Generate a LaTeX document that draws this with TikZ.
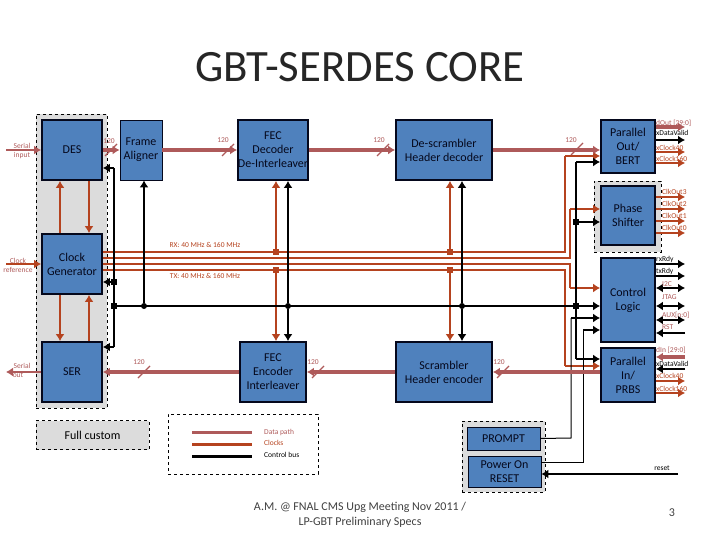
\documentclass[tikz,border=0pt]{standalone}
\usepackage{fontspec}
\setmainfont{Carlito}
\usetikzlibrary{arrows.meta}
\definecolor{boxblue}{HTML}{4F81BD}
\definecolor{boxline}{HTML}{05081C}
\definecolor{datared}{HTML}{AE5A5A}
\definecolor{clockred}{HTML}{B5431F}
\definecolor{customgrey}{HTML}{DCDCDC}
\tikzset{
  block/.style={draw=boxline, line width=1.8pt, fill=boxblue, text=boxline, inner sep=0pt, align=center, font=\fontsize{12}{14}\selectfont},
  custom/.style={draw=black, dashed, fill=customgrey, inner sep=0pt},
  datapath/.style={draw=datared, line width=4pt},
  clockpath/.style={draw=clockred, line width=2.5pt},
  ctrlpath/.style={draw=black, line width=2.2pt},
  thinpath/.style={draw=black, line width=1pt},
  tip/.style={-{Latex[length=7pt,width=9pt]}},
  both/.style={{Latex[length=7pt,width=9pt]}-{Latex[length=7pt,width=9pt]}},
  sigtext/.style={inner sep=0pt, font=\fontsize{7.5}{8}\selectfont, text=datared},
  ctrltext/.style={inner sep=0pt, font=\fontsize{7.5}{8}\selectfont, text=black},
  clocktext/.style={inner sep=0pt, font=\fontsize{7.5}{8}\selectfont, text=clockred},
  ctrldot/.style={circle, fill=black, inner sep=0pt, minimum size=6pt},
  ctrlsq/.style={rectangle, fill=black, inner sep=0pt, minimum size=6pt},
  clocksq/.style={rectangle, fill=clockred, inner sep=0pt, minimum size=6pt}
}
\begin{document}
\begin{tikzpicture}[x=1pt, y=-1pt]
  \useasboundingbox (0,0) rectangle (720,540);
  \node[inner sep=0pt, text=black!85, font=\fontsize{44.8}{48}\selectfont] (title) at (360,67) {GBT-SERDES CORE};

  % full custom areas
  \node[custom, minimum width=71pt, minimum height=294pt] (lgrey) at (71.5,261) {};
  \node[custom, minimum width=67pt, minimum height=71pt] (pgrey) at (627.5,216.5) {};
  \node[custom, minimum width=83pt, minimum height=71pt] (rgrey) at (503.5,456.5) {};
  \node[custom, minimum width=113pt, minimum height=29pt, font=\fontsize{12}{14}\selectfont] (fcustom) at (92.5,435) {Full custom};

  % blocks
  \node[block, minimum width=60pt, minimum height=60pt] (des) at (72,150) {DES};
  \node[block, line width=0.8pt, minimum width=42pt, minimum height=60pt] (frame) at (141,150) {Frame\\Aligner};
  \node[block, minimum width=60pt, minimum height=60pt] (clock) at (72,264) {Clock\\Generator};
  \node[block, minimum width=60pt, minimum height=60pt] (ser) at (72,372) {SER};
  \node[block, minimum width=66pt, minimum height=60pt] (fecd) at (273,150) {FEC\\Decoder\\De-Interleaver};
  \node[block, minimum width=96pt, minimum height=60pt] (descr) at (444,150) {De-scrambler\\Header decoder};
  \node[block, minimum width=66pt, minimum height=60pt] (fece) at (273,372) {FEC\\Encoder\\Interleaver};
  \node[block, minimum width=96pt, minimum height=60pt] (scr) at (444,372) {Scrambler\\Header encoder};
  \node[block, minimum width=54pt, minimum height=53pt] (pout) at (628,146.5) {Parallel\\Out/\\BERT};
  \node[block, minimum width=54pt, minimum height=59pt] (phase) at (628,215.5) {Phase\\Shifter};
  \node[block, minimum width=54pt, minimum height=84pt] (ctrl) at (628,300) {Control\\Logic};
  \node[block, minimum width=54pt, minimum height=54pt] (pin) at (628,375) {Parallel\\In/\\PRBS};
  \node[block, line width=0.8pt, minimum width=73pt, minimum height=23pt] (prompt) at (503.5,438.5) {PROMPT};
  \node[block, line width=0.8pt, minimum width=73pt, minimum height=31pt] (por) at (504.5,471.5) {Power On\\RESET};

  % clock lines
  \coordinate (c1) at (565,252);
  \coordinate (c2) at (570,258);
  \coordinate (c3) at (570,264);
  \coordinate (c4) at (565,270);
  \coordinate (c1e) at (565,156);
  \coordinate (c2e) at (570,209);
  \coordinate (c3e) at (570,288);
  \coordinate (c4e) at (565,366);
  \draw[clockpath] (clock.east |- c1) -- (c1) -- (c1e);
  \draw[clockpath] (clock.east |- c2) -- (c2) -- (c2e);
  \draw[clockpath] (clock.east |- c3) -- (c3) -- (c3e);
  \draw[clockpath] (clock.east |- c4) -- (c4) -- (c4e);
  \draw[clockpath, tip] (c1e) -- (c1e -| pout.west);
  \draw[clockpath, tip] (c2e) -- (c2e -| phase.west);
  \draw[clockpath, tip] (c3e) -- (c3e -| ctrl.west);
  \draw[clockpath, tip] (c4e) -- (c4e -| pin.west);
  \coordinate (cl) at (60,0);
  \coordinate (cr) at (89,0);
  \draw[clockpath, tip] (clock.north -| cl) -- (des.south -| cl);
  \draw[clockpath, tip] (des.south -| cr) -- (clock.north -| cr);
  \draw[clockpath, tip] (clock.south -| cl) -- (ser.north -| cl);
  \draw[clockpath, tip] (ser.north -| cr) -- (clock.south -| cr);
  \foreach \xc/\up/\down in {276/fecd/fece, 450/descr/scr} {
    \node[clocksq] (s\xc a) at (\xc,252) {};
    \node[clocksq] (s\xc b) at (\xc,270) {};
    \draw[clockpath, tip] (s\xc a) -- (\up.south -| s\xc a);
    \draw[clockpath, tip] (s\xc b) -- (\down.north -| s\xc b);
  }

  % control bus
  \node[ctrlsq] (b1) at (114,282) {};
  \node[ctrlsq] (b2) at (114,306) {};
  \node[ctrldot] (b3) at (144,306) {};
  \node[ctrldot] (b4) at (288,306) {};
  \node[ctrldot] (b5) at (462,306) {};
  \node[ctrlsq] (b6) at (576,306) {};
  \node[ctrlsq] (b7) at (576,222) {};
  \coordinate (b0) at (114,168);
  \coordinate (b8) at (114,347);
  \coordinate (b9) at (576,162);
  \coordinate (b10) at (576,359);
  \draw[ctrlpath] (b0) -- (b8);
  \draw[ctrlpath, tip] (b0) -- (des.east |- b0);
  \draw[ctrlpath, tip] (b8) -- (ser.east |- b8);
  \draw[ctrlpath, tip] (b1) -- (clock.east |- b1);
  \draw[ctrlpath] (b2) -- (b6);
  \draw[ctrlpath, tip] (b6) -- (b6 -| ctrl.west);
  \draw[ctrlpath] (b9) -- (b10);
  \draw[ctrlpath, tip] (b9) -- (b9 -| pout.west);
  \draw[ctrlpath, tip] (b7) -- (b7 -| phase.west);
  \draw[ctrlpath, tip] (b10) -- (b10 -| pin.west);
  \draw[ctrlpath, tip] (b3) -- (frame.south -| b3);
  \draw[ctrlpath, tip] (b4) -- (fecd.south -| b4);
  \draw[ctrlpath, tip] (b4) -- (fece.north -| b4);
  \draw[ctrlpath, tip] (b5) -- (descr.south -| b5);
  \draw[ctrlpath, tip] (b5) -- (scr.north -| b5);

  % prompt and power on
  \coordinate (pr) at (571,318);
  \coordinate (po) at (583,330);
  \coordinate (pr0) at (571,438);
  \coordinate (po0) at (583,462);
  \coordinate (rst) at (678,474);
  \draw[thinpath] (prompt.east) -- (pr0) -- (pr);
  \draw[thinpath] (por.east |- po0) -- (po0) -- (po);
  \draw[ctrlpath, tip] (pr) -- (pr -| ctrl.west);
  \draw[ctrlpath, tip] (po) -- (po -| ctrl.west);
  \draw[ctrlpath, tip] (rst) -- (por.east |- rst);
  \node[ctrltext] (lrst) at (662,468) {reset};

  % data path
  \draw[datapath, tip] (des.east) -- (frame.west);
  \draw[datapath, tip] (frame.east) -- (fecd.west);
  \draw[datapath, tip] (fecd.east) -- (descr.west);
  \draw[datapath, tip] (descr.east) -- (descr.east -| pout.west);
  \draw[datapath, tip] (fece.west) -- (ser.east);
  \draw[datapath, tip] (scr.west) -- (fece.east);
  \draw[datapath, tip] (pin.west |- scr.east) -- (scr.east);
  \foreach \xb/\yb in {111/150, 228/150, 383/150, 577/149, 144/372, 318/372, 503/372} {
    \draw[draw=datared, line width=1.2pt] (\xb-6,\yb+6) -- (\xb+6,\yb-6);
  }
  \foreach \xb/\yb in {109/141, 223/140, 379/140, 571/140, 139/362, 313/362, 499/362} {
    \node[sigtext] (w\xb) at (\xb,\yb) {120};
  }

  % serial and clock inputs
  \coordinate (sin) at (6,150);
  \coordinate (cin) at (6,264);
  \coordinate (sout) at (6,372);
  \draw[draw=datared, line width=1.8pt, tip] (sin) -- (des.west);
  \draw[draw=clockred, line width=1.8pt, tip] (cin) -- (clock.west);
  \draw[draw=datared, line width=1.8pt, tip] (ser.west) -- (sout);
  \node[sigtext] (l1) at (22,146) {Serial};
  \node[sigtext] (l2) at (22,156) {input};
  \node[sigtext] (l3) at (18,261) {Clock};
  \node[sigtext] (l4) at (18,270) {reference};
  \node[sigtext] (l5) at (22,366) {Serial};
  \node[sigtext] (l6) at (18,375) {out};
  \node[clocktext] (rx) at (205,245) {RX: 40 MHz \& 160 MHz};
  \node[clocktext] (tx) at (205,276) {TX: 40 MHz \& 160 MHz};

  % outputs
  \coordinate (o1) at (685,127);
  \coordinate (o2) at (685,140);
  \coordinate (o3) at (685,152);
  \coordinate (o4) at (685,163);
  \draw[datapath, tip] (o1 -| pout.east) -- (o1);
  \draw[ctrlpath, tip] (o2 -| pout.east) -- (o2);
  \draw[clockpath, tip] (o3 -| pout.east) -- (o3);
  \draw[clockpath, tip] (o4 -| pout.east) -- (o4);
  \node[sigtext, anchor=west] (t1) at (656,123) {dOut [29:0]};
  \node[ctrltext, anchor=west] (t2) at (656,133) {xDataValid};
  \node[clocktext, anchor=west] (t3) at (656,148) {xClock40};
  \node[clocktext, anchor=west] (t4) at (656,159) {xClock160};
  \foreach \yo/\n in {197/3, 209/2, 221/1, 233/0} {
    \coordinate (ph\n) at (685,\yo);
    \draw[clockpath, tip] (ph\n -| phase.east) -- (ph\n);
    \node[clocktext, anchor=west] (lph\n) at (662,\yo-5) {ClkOut\n};
  }
  \coordinate (k1) at (685,264);
  \coordinate (k2) at (685,276);
  \coordinate (k3) at (685,288);
  \coordinate (k4) at (685,306);
  \coordinate (k5) at (685,320);
  \coordinate (k6) at (685,333);
  \draw[ctrlpath, tip] (k1 -| ctrl.east) -- (k1);
  \draw[ctrlpath, tip] (k2 -| ctrl.east) -- (k2);
  \draw[ctrlpath, both] (k3 -| ctrl.east) -- (k3);
  \draw[ctrlpath, both] (k4 -| ctrl.east) -- (k4);
  \draw[ctrlpath, both] (k5 -| ctrl.east) -- (k5);
  \draw[ctrlpath, tip] (k6) -- (k6 -| ctrl.east);
  \node[ctrltext, anchor=west] (t5) at (656,260) {rxRdy};
  \node[ctrltext, anchor=west] (t6) at (656,272) {txRdy};
  \node[sigtext, anchor=west] (t7) at (662,284) {I2C};
  \node[sigtext, anchor=west] (t8) at (662,297) {JTAG};
  \node[sigtext, anchor=west] (t9) at (662,315) {AUX[n:0]};
  \node[sigtext, anchor=west] (t10) at (662,327) {RST};
  \coordinate (i1) at (685,357);
  \coordinate (i2) at (685,369);
  \coordinate (i3) at (685,381);
  \coordinate (i4) at (685,393);
  \draw[datapath, tip] (i1) -- (i1 -| pin.east);
  \draw[ctrlpath, tip] (i2) -- (i2 -| pin.east);
  \draw[clockpath, tip] (i3 -| pin.east) -- (i3);
  \draw[clockpath, tip] (i4 -| pin.east) -- (i4);
  \node[sigtext, anchor=west] (t11) at (656,350) {dIn [29:0]};
  \node[ctrltext, anchor=west] (t12) at (656,364) {xDataValid};
  \node[clocktext, anchor=west] (t13) at (656,376) {xClock40};
  \node[clocktext, anchor=west] (t14) at (656,389) {xClock160};

  % legend
  \node[draw=black, dashed, inner sep=0pt, minimum width=150pt, minimum height=60pt] (legend) at (243,444) {};
  \coordinate (g1) at (192,432);
  \coordinate (g2) at (192,444);
  \coordinate (g3) at (192,456);
  \draw[datapath, line width=3pt] (g1) -- ++(60,0);
  \draw[clockpath, line width=3pt] (g2) -- ++(60,0);
  \draw[ctrlpath, line width=3pt] (g3) -- ++(60,0);
  \node[sigtext, anchor=west] (lg1) at (264,432) {Data path};
  \node[clocktext, anchor=west] (lg2) at (264,443) {Clocks};
  \node[ctrltext, anchor=west] (lg3) at (264,455) {Control bus};

  % footer
  \node[inner sep=0pt, align=center, text=black!75, font=\fontsize{12}{14.5}\selectfont] (foot) at (360,515) {A.M. @ FNAL CMS Upg Meeting Nov 2011 /\\LP-GBT Preliminary Specs};
  \node[inner sep=0pt, text=black!75, font=\fontsize{12}{14}\selectfont] (page) at (672,513) {3};
\end{tikzpicture}
\end{document}
